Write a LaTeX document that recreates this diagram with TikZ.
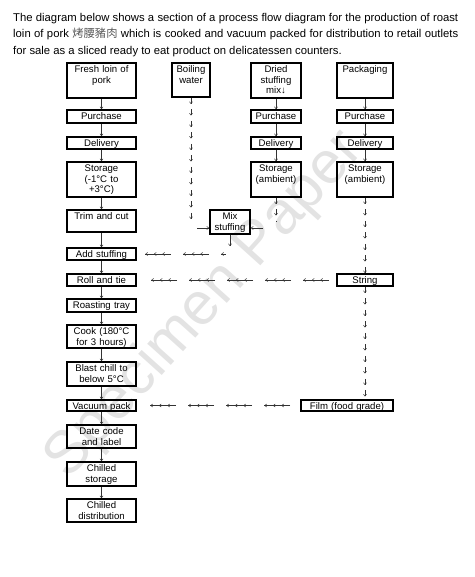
\documentclass[tikz,border=0pt]{standalone}
\usepackage{fontspec}
\setmainfont{Liberation Sans}
\newfontfamily\cjk{Noto Sans CJK TC}
\usetikzlibrary{arrows.meta,decorations.markings}

\tikzset{
  >={To[length=2.4pt,width=3.4pt]},
  title/.style={anchor=north west, inner sep=0pt, align=left,
    font=\fontsize{11.3}{16.5}\selectfont},
  wmark/.style={rotate=48, text=black!11, font=\fontsize{60}{60}\selectfont},
  pbox/.style={draw, line width=2.2pt, inner sep=1.6pt, align=center,
    text width=65.6pt, text height=7.5pt,
    font=\fontsize{9.6}{10.8}\selectfont},
  flow/.style={line width=0.5pt, black!80, ->},
  vflow/.style={line width=0.5pt, black!80, dash pattern=on 6pt off 5.5pt,
    postaction={decorate, decoration={markings,
      mark=between positions 6pt and 1 step 11.5pt with {\arrow{>}}}}},
  hflow/.style={line width=0.5pt, black!80, dash pattern=on 26pt off 12pt,
    postaction={decorate, decoration={markings,
      mark=between positions 8.5pt and 1 step 38pt with {\arrow{>}},
      mark=between positions 17pt and 1 step 38pt with {\arrow{>}},
      mark=between positions 25.5pt and 1 step 38pt with {\arrow{>}}}}},
  % same dashes, laid out from the far end
  hback/.style={line width=0.5pt, black!80, dash pattern=on 26pt off 12pt,
    postaction={decorate, decoration={markings,
      mark=between positions 0.5pt and 1 step 38pt with {\arrowreversed{>}},
      mark=between positions 9pt and 1 step 38pt with {\arrowreversed{>}},
      mark=between positions 17.5pt and 1 step 38pt with {\arrowreversed{>}}}}}
}

\begin{document}
\begin{tikzpicture}[x=1pt, y=-1pt]

    % Page size of the reference
    \useasboundingbox (0,0) rectangle (474,577);

    % Watermark behind everything
    \node[wmark] (specimen) at (205,305) {Specimen Paper};

    % Question text
    \node[title] (intro) at (13,12.7) {%
      \makebox[445pt][s]{The diagram below shows a section of a process flow diagram for the production of roast}\\
      \makebox[445pt][s]{loin of pork {\cjk\color{black!65}烤腰豬肉} which is cooked and vacuum packed for distribution to retail outlets}\\
      for sale as a sliced ready to eat product on delicatessen counters.};

    % Main line: pork
    \node[pbox, text depth=24pt] (fresh) at (101.5,80.5) {Fresh loin of\\pork};
    \node[pbox, text depth=2pt] (purchA) at (101.5,116.5) {Purchase};
    \node[pbox, text depth=1pt] (delivA) at (101.5,143) {Delivery};
    \node[pbox, text depth=24pt] (storA) at (101.5,179.5) {Storage\\(-1°C to\\+3°C)};
    \node[pbox, text depth=11pt] (trim) at (101.5,221) {Trim and cut};
    \node[pbox, text depth=1pt] (addst) at (101.5,254) {Add stuffing};
    \node[pbox, text depth=1pt] (roll) at (101.5,280) {Roll and tie};
    \node[pbox, text depth=2pt] (tray) at (101.5,305.5) {Roasting tray};
    \node[pbox, text depth=12pt] (cook) at (101.5,336.5) {Cook (180°C\\for 3 hours)};
    \node[pbox, text depth=13pt] (chill) at (101.5,374) {Blast chill to\\below 5°C};
    \node[pbox, text depth=0pt] (vac) at (101.5,405.5) {Vacuum pack};
    \node[pbox, text depth=12pt] (date) at (101.5,436.5) {Date code\\and label};
    \node[pbox, text depth=13pt] (cstor) at (101.5,474) {Chilled\\storage};
    \node[pbox, text depth=12pt] (cdist) at (101.5,510.5) {Chilled\\distribution};

    % Boiling water
    \node[pbox, text width=34.6pt, text depth=23pt] (boil) at (191,80) {Boiling\\water};

    % Dried stuffing mix
    \node[pbox, text width=46.6pt, text depth=24pt] (dried) at (276,80.5) {Dried\\stuffing\\mix↓};
    \node[pbox, text width=46.6pt, text depth=2pt] (purchC) at (276,116.5) {Purchase};
    \node[pbox, text width=46.6pt, text depth=1pt] (delivC) at (276,143) {Delivery};
    \node[pbox, text width=46.6pt, text depth=24pt] (storC) at (276,179.5) {Storage\\(ambient)};

    % Packaging
    \node[pbox, text width=52.6pt, text depth=24pt] (pack) at (365,80.5) {Packaging};
    \node[pbox, text width=52.6pt, text depth=2pt] (purchD) at (365,116.5) {Purchase};
    \node[pbox, text width=52.6pt, text depth=1pt] (delivD) at (365,143) {Delivery};
    \node[pbox, text width=52.6pt, text depth=24pt] (storD) at (365,179.5) {Storage\\(ambient)};
    \node[pbox, text width=52.6pt, text depth=1pt] (string) at (365,280) {String};
    \node[pbox, text width=88.6pt, text depth=0pt] (film) at (347,405.5) {Film (food grade)};

    % Mixing step
    \node[pbox, text width=36.6pt, text depth=13pt] (mix) at (230,222) {Mix\\stuffing};

    % Arrows down the main line
    \draw[flow] (fresh) -- (purchA);
    \draw[flow] (purchA) -- (delivA);
    \draw[flow] (delivA) -- (storA);
    \draw[flow] (storA) -- (trim);
    \draw[flow] (trim) -- (addst);
    \draw[flow] (addst) -- (roll);
    \draw[flow] (roll) -- (tray);
    \draw[flow] (tray) -- (cook);
    \draw[flow] (cook) -- (chill);
    \draw[flow] (chill) -- (vac);
    \draw[flow] (vac) -- (date);
    \draw[flow] (date) -- (cstor);
    \draw[flow] (cstor) -- (cdist);

    % Arrows down the side lines
    \draw[flow] (dried) -- (purchC);
    \draw[flow] (purchC) -- (delivC);
    \draw[flow] (delivC) -- (storC);
    \draw[flow] (pack) -- (purchD);
    \draw[flow] (purchD) -- (delivD);
    \draw[flow] (delivD) -- (storD);

    % Water and dried mix into the mixing step
    \coordinate (boil-end) at (191,222);
    \coordinate (boil-in) at (197,228);
    \draw[vflow] (boil) -- (boil-end);
    \draw[flow] (boil-in) -- (boil-in -| mix.west);
    \coordinate (dry-end) at (276,222);
    \coordinate (dry-in) at (263,228);
    \draw[vflow] (storC) -- (dry-end);
    \draw[flow] (dry-in) -- (dry-in -| mix.east);

    % Stuffing into the main line
    \coordinate (mix-end) at (230,246);
    \coordinate (mix-out) at (226,254);
    \draw[flow] (mix) -- (mix-end);
    \draw[hback] ([xshift=8pt]addst.east) -- (mix-out);

    % Packaging into the main line
    \draw[vflow] (storD) -- (string);
    \draw[hflow] ([xshift=-7pt]string.west) -- ([xshift=8pt]roll.east);
    \draw[vflow] (string) -- (film.north -| string);
    \draw[hflow] ([xshift=-10pt]film.west) -- ([xshift=8pt]vac.east);

\end{tikzpicture}
\end{document}
